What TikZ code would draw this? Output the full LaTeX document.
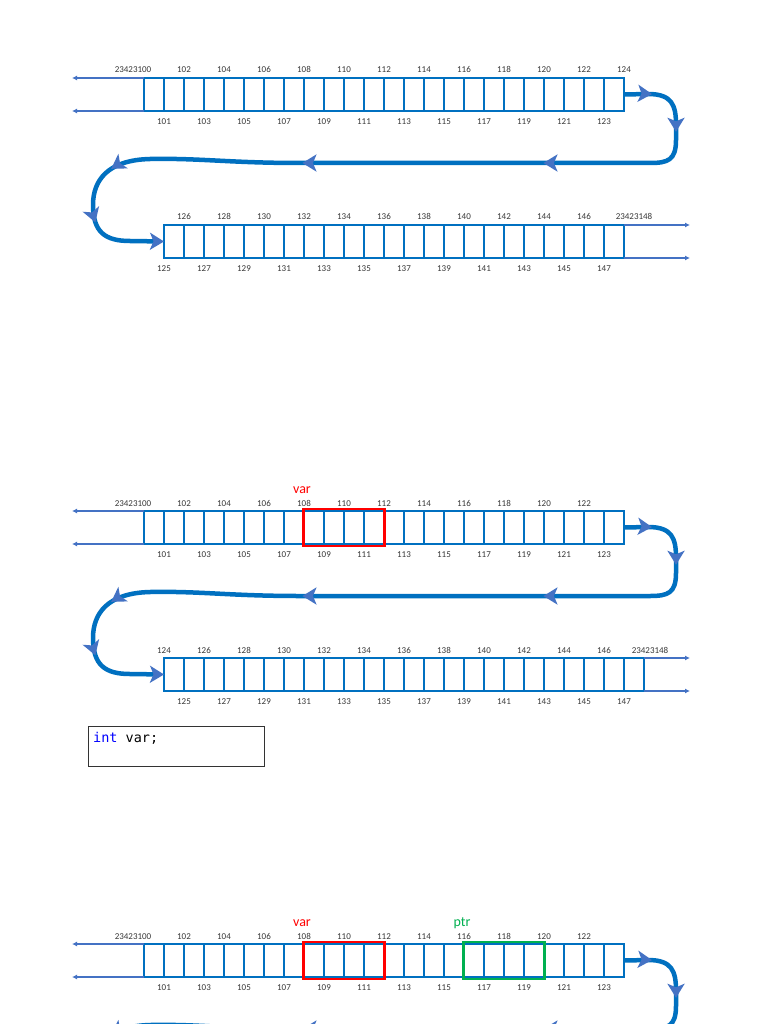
\documentclass[tikz,border=0pt]{standalone}
\usepackage{fontspec}
\setmainfont{Carlito}
\newfontfamily\codefont{DejaVu Sans Mono}
\usetikzlibrary{arrows.meta,decorations.markings,fit}
\definecolor{cellblue}{RGB}{0,112,192}
\definecolor{lineblue}{RGB}{68,114,196}
\definecolor{lbl}{RGB}{55,55,55}
\definecolor{ptrgreen}{RGB}{0,176,80}
\definecolor{kwblue}{RGB}{0,0,255}
\definecolor{varred}{RGB}{255,0,0}
\tikzset{
  fhead/.tip={Stealth[length=14pt,width=17pt,inset=3.5pt,color=lineblue]},
  cell/.style={draw=cellblue, line width=1.8pt, minimum width=20pt, minimum height=33pt, inner sep=0pt, outer sep=0pt},
  rowbox/.style={draw=cellblue, line width=2.2pt, inner sep=0pt, outer sep=0pt, minimum height=33pt},
  num/.style={font=\fontsize{9}{10}\selectfont, text=lbl, inner sep=0pt, anchor=base},
  thinarrow/.style={draw=lineblue, line width=1.2pt, -{Latex[length=5pt,width=5pt]}},
  flow/.style={draw=cellblue, line width=4.5pt, -{fhead},
    postaction={decorate},
    decoration={markings,
      mark=at position 28pt with {\arrow{fhead}},
      mark=at position 80pt with {\arrow{fhead}},
      mark=at position 236pt with {\arrow{fhead}},
      mark=at position 477pt with {\arrow{fhead}},
      mark=at position 670pt with {\arrow{fhead}},
      mark=at position 730pt with {\arrow{fhead}}}},
  selbox/.style={line width=2.2pt, inner xsep=0.5pt, inner ysep=2pt, outer sep=0pt},
  tag/.style={font=\fontsize{14}{16}\selectfont, inner sep=0pt},
  codebox/.style={draw=black!80, line width=0.9pt, minimum width=176pt, minimum height=40pt, inner sep=0pt, anchor=north west},
  codetext/.style={font=\codefont\fontsize{13.5}{16}\selectfont, inner sep=0pt, anchor=west}
}
% top memory row: #1 prefix
\newcommand\MemTop[1]{%
  \node[rowbox, minimum width=480pt] (#1row) at (384,94.5) {};
  \foreach \k in {0,...,23} {\node[cell] (#1c\k) at ({154+20*\k},94.5) {};}
  \node[num] (#1l0) at (133,73) {23423100};
  \foreach \k in {1,...,23} {%
    \pgfmathtruncatemacro\lbln{100+\k}%
    \ifodd\k
      \node[num] (#1l\k) at ({144+20*\k},124.5) {\lbln};
    \else
      \node[num] (#1l\k) at ({144+20*\k},73) {\lbln};
    \fi
  }
  \coordinate (#1lt) at (72,78);
  \coordinate (#1lb) at (72,111);
  \draw[thinarrow] (#1row.north west) -- (#1lt);
  \draw[thinarrow] (#1row.south west) -- (#1lb);
}
% bottom memory row: #1 prefix, #2 cells, #3 first label, #4 x of last label
\newcommand\MemBot[4]{%
  \pgfmathsetmacro\roww{20*#2}%
  \node[rowbox, minimum width=\roww pt, anchor=west] (#1row) at (164,241.5) {};
  \pgfmathtruncatemacro\lastk{#2-1}%
  \foreach \k in {0,...,\lastk} {\node[cell] (#1c\k) at ({174+20*\k},241.5) {};}
  \foreach \k in {0,...,\lastk} {%
    \pgfmathtruncatemacro\lbln{#3+\k}%
    \ifodd\lbln
      \node[num] (#1l\k) at ({164+20*\k},271.5) {\lbln};
    \else
      \node[num] (#1l\k) at ({164+20*\k},220) {\lbln};
    \fi
  }
  \node[num] (#1big) at (#4,220) {23423148};
  \coordinate (#1rt) at (690,225);
  \coordinate (#1rb) at (690,258);
  \draw[thinarrow] (#1row.north east) -- (#1rt);
  \draw[thinarrow] (#1row.south east) -- (#1rb);
}
% flow curve from #1 (node) to #2 (anchor)
\newcommand\Flow[2]{%
  \draw[flow] (#1.east) -- (648,94) .. controls (672,94) and (676,105) .. (676,125)
    -- (676,140) .. controls (676,160) and (668,163) .. (650,163)
    -- (300,163) .. controls (230,163) and (200,158) .. (150,159)
    .. controls (108,160) and (93,180) .. (93,205)
    .. controls (93,232) and (105,241) .. (130,241) -- (#2);
}
\begin{document}
\begin{tikzpicture}[x=1pt,y=-1pt]
\useasboundingbox (0,0) rectangle (768,1024);
\clip (0,0) rectangle (768,1024);
\fill[white] (0,0) rectangle (768,1024);

% ---------- diagram 1
\begin{scope}
  \MemTop{a}
  \node[num] (a124) at (624,73) {124};
  \MemBot{b}{23}{125}{634}
  \Flow{arow}{brow.west}
\end{scope}

% ---------- diagram 2
\begin{scope}[shift={(0,433)}]
  \MemTop{c}
  \node[selbox, draw=varred, fit=(cc8)(cc11)] (cvar) {};
  \node[tag, text=varred] (cvarlbl) at (302,57) {var};
  \MemBot{d}{24}{124}{650}
  \Flow{crow}{drow.west}
\end{scope}
\node[codebox] (code) at (88,726) {};
\node[codetext] (codetxt) at (93,738) {\textcolor{kwblue}{int} var;};

% ---------- diagram 3
\begin{scope}[shift={(0,866)}]
  \MemTop{e}
  \node[selbox, draw=varred, fit=(ec8)(ec11)] (evar) {};
  \node[tag, text=varred] (evarlbl) at (302,57) {var};
  \node[selbox, draw=ptrgreen, fit=(ec16)(ec19)] (eptr) {};
  \node[tag, text=ptrgreen] (eptrlbl) at (462,57) {ptr};
  \coordinate (eend) at (164,241.5);
  \Flow{erow}{eend}
\end{scope}
\end{tikzpicture}
\end{document}
